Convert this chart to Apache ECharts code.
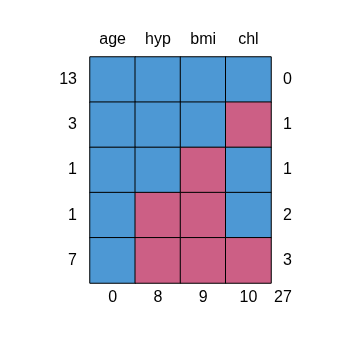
<!DOCTYPE html>
<html><head><meta charset="utf-8">
<script src="https://cdn.jsdelivr.net/npm/echarts@6/dist/echarts.min.js"></script>
<style>html,body{margin:0;padding:0;background:#fff}#c{width:362px;height:341px}</style>
</head><body><div id="c"></div>
<script>
const variables = ['age','hyp','bmi','chl'];
const varMissing = ['0','8','9','10'];
const patternCounts = ['13','3','1','1','7'];
const patternMissing = ['0','1','1','2','3'];
const totalMissing = '27';
const patterns = [
  [1,1,1,1],
  [1,1,1,0],
  [1,1,0,1],
  [1,0,0,1],
  [1,0,0,0]
];
const data = [];
patterns.forEach((r,i)=>r.forEach((v,j)=>data.push([j,i,v])));
const font = 'Liberation Sans, Arial, sans-serif';
const chart = echarts.init(document.getElementById('c'));
chart.setOption({
  animation:false,
  grid:{left:90, top:57, width:181, height:226},
  xAxis:[
    {type:'category', data:variables, position:'top', axisLine:{show:false}, axisTick:{show:false}, splitLine:{show:false},
     axisLabel:{fontFamily:font, fontSize:16, color:'#000', margin:9}},
    {type:'category', data:varMissing, position:'bottom', axisLine:{show:false}, axisTick:{show:false}, splitLine:{show:false},
     axisLabel:{fontFamily:font, fontSize:16, color:'#000', margin:7}}
  ],
  yAxis:[
    {type:'category', data:patternCounts, inverse:true, position:'left', axisLine:{show:false}, axisTick:{show:false}, splitLine:{show:false},
     axisLabel:{fontFamily:font, fontSize:16, color:'#000', margin:13}},
    {type:'category', data:patternMissing, inverse:true, position:'right', axisLine:{show:false}, axisTick:{show:false}, splitLine:{show:false},
     axisLabel:{fontFamily:font, fontSize:16, color:'#000', margin:12}}
  ],
  visualMap:{show:false, type:'piecewise', dimension:2,
    pieces:[{value:1,color:'#4D98D4'},{value:0,color:'#CC5F85'}]},
  series:[{type:'heatmap', data:data, itemStyle:{borderColor:'#000', borderWidth:1}, emphasis:{disabled:true}}],
  graphic:[{type:'text', x:283, y:298, style:{text:totalMissing, font:'16px '+font, fill:'#000', align:'center', verticalAlign:'middle'}}]
});
</script></body></html>
